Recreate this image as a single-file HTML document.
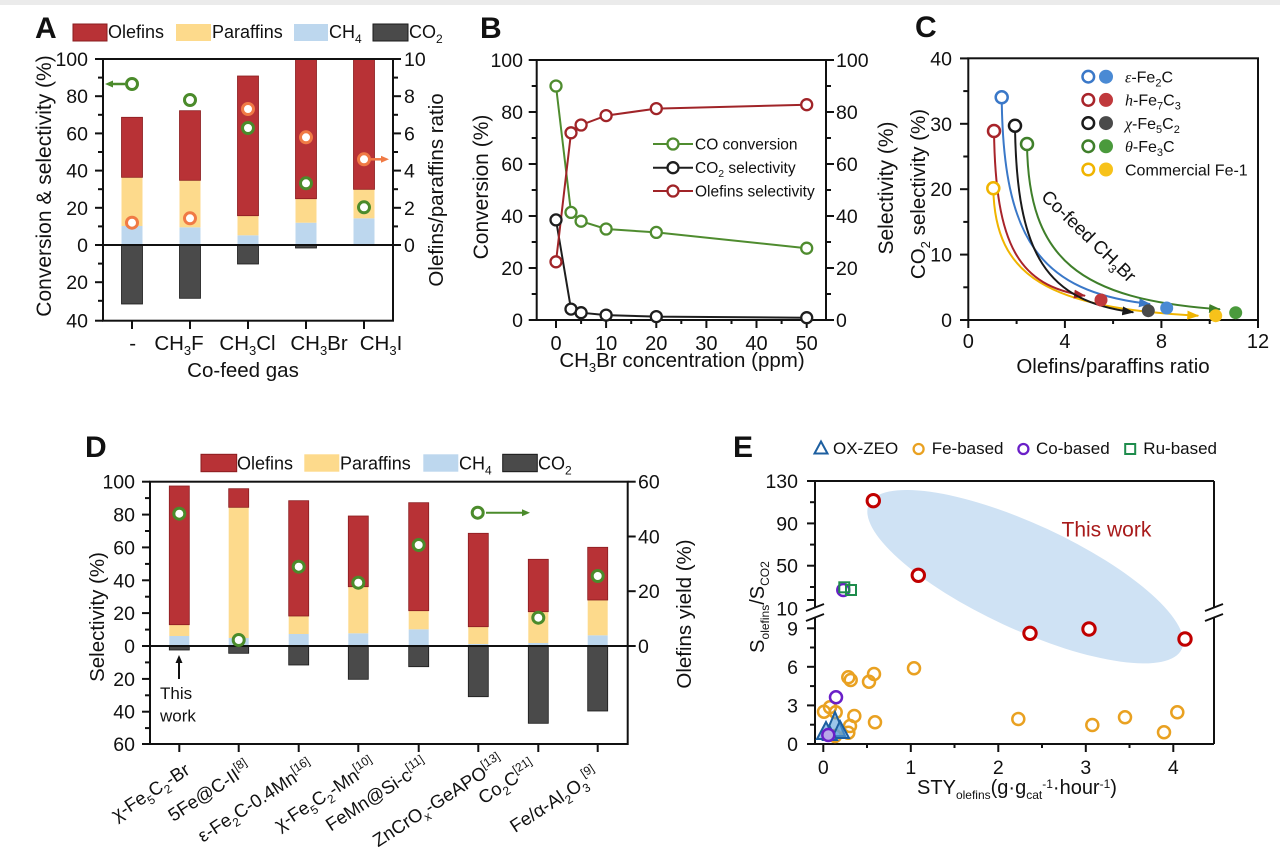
<!DOCTYPE html>
<html><head><meta charset="utf-8"><style>
html,body{margin:0;padding:0;background:#fff;}
svg{display:block;}
text{font-family:"Liberation Sans",Arial,sans-serif;fill:#111;}
</style></head><body>
<svg width="1280" height="862" viewBox="0 0 1280 862" xmlns="http://www.w3.org/2000/svg">
<defs>
<marker id="aB" markerWidth="12" markerHeight="9" refX="11" refY="4.5" orient="auto" markerUnits="userSpaceOnUse"><path d="M0,0 L12,4.5 L0,9 z" fill="#3a78c8"/></marker>
<marker id="aR" markerWidth="12" markerHeight="9" refX="11" refY="4.5" orient="auto" markerUnits="userSpaceOnUse"><path d="M0,0 L12,4.5 L0,9 z" fill="#a8242a"/></marker>
<marker id="aK" markerWidth="12" markerHeight="9" refX="11" refY="4.5" orient="auto" markerUnits="userSpaceOnUse"><path d="M0,0 L12,4.5 L0,9 z" fill="#1a1a1a"/></marker>
<marker id="aG" markerWidth="12" markerHeight="9" refX="11" refY="4.5" orient="auto" markerUnits="userSpaceOnUse"><path d="M0,0 L12,4.5 L0,9 z" fill="#3f7f2a"/></marker>
<marker id="aY" markerWidth="12" markerHeight="9" refX="11" refY="4.5" orient="auto" markerUnits="userSpaceOnUse"><path d="M0,0 L12,4.5 L0,9 z" fill="#f0b400"/></marker>
</defs>
<rect x="0" y="0" width="1280" height="862" fill="#fff"/>
<rect x="0" y="0" width="1280" height="5" fill="#ebebeb"/>

<!-- ================= PANEL A ================= -->
<text x="35" y="38" font-size="30" font-weight="bold">A</text>
<rect x="73" y="24" width="34" height="17" fill="#b83236" stroke="#8a1c1f"/>
<text x="108" y="38" font-size="18">Olefins</text>
<rect x="176" y="24" width="35" height="17" fill="#fdda8c"/>
<text x="212" y="38" font-size="18">Paraffins</text>
<rect x="294" y="24" width="34" height="17" fill="#bdd7ee"/>
<text x="329" y="38" font-size="18">CH<tspan font-size="12" dy="5">4</tspan></text>
<rect x="373" y="24" width="35" height="17" fill="#4a4a4a" stroke="#1a1a1a"/>
<text x="409" y="38" font-size="18">CO<tspan font-size="12" dy="5">2</tspan></text>

<g stroke-width="0.8">
<rect x="121.5" y="226" width="21" height="19" fill="#bdd7ee"/>
<rect x="121.5" y="177.3" width="21" height="48.7" fill="#fdda8c"/>
<rect x="121.5" y="117.3" width="21" height="60" fill="#b83236" stroke="#8a1c1f"/>
<rect x="121.5" y="245" width="21" height="59" fill="#4a4a4a" stroke="#1a1a1a"/>

<rect x="179.5" y="227.3" width="21" height="17.7" fill="#bdd7ee"/>
<rect x="179.5" y="180.3" width="21" height="47" fill="#fdda8c"/>
<rect x="179.5" y="110.7" width="21" height="69.6" fill="#b83236" stroke="#8a1c1f"/>
<rect x="179.5" y="245" width="21" height="53.3" fill="#4a4a4a" stroke="#1a1a1a"/>

<rect x="237.5" y="235.3" width="21" height="9.7" fill="#bdd7ee"/>
<rect x="237.5" y="215.7" width="21" height="19.6" fill="#fdda8c"/>
<rect x="237.5" y="76" width="21" height="139.7" fill="#b83236" stroke="#8a1c1f"/>
<rect x="237.5" y="245" width="21" height="19" fill="#4a4a4a" stroke="#1a1a1a"/>

<rect x="295.5" y="222.7" width="21" height="22.3" fill="#bdd7ee"/>
<rect x="295.5" y="198.7" width="21" height="24" fill="#fdda8c"/>
<rect x="295.5" y="59" width="21" height="139.7" fill="#b83236" stroke="#8a1c1f"/>
<rect x="295.5" y="245" width="21" height="3" fill="#4a4a4a" stroke="#1a1a1a"/>

<rect x="353.5" y="218.3" width="21" height="26.7" fill="#bdd7ee"/>
<rect x="353.5" y="189.3" width="21" height="29" fill="#fdda8c"/>
<rect x="353.5" y="59" width="21" height="130.3" fill="#b83236" stroke="#8a1c1f"/>
</g>

<g stroke="#111" stroke-width="2" fill="none">
<rect x="103" y="59" width="290" height="261.7"/>
<line x1="103" y1="245" x2="393" y2="245"/>
</g>
<g stroke="#111" stroke-width="2">
<line x1="95" y1="59" x2="103" y2="59"/><line x1="95" y1="96.2" x2="103" y2="96.2"/><line x1="95" y1="133.4" x2="103" y2="133.4"/><line x1="95" y1="170.6" x2="103" y2="170.6"/><line x1="95" y1="207.8" x2="103" y2="207.8"/><line x1="95" y1="245" x2="103" y2="245"/><line x1="95" y1="282.2" x2="103" y2="282.2"/><line x1="95" y1="320.7" x2="103" y2="320.7"/>
<line x1="98" y1="77.6" x2="103" y2="77.6"/><line x1="98" y1="114.8" x2="103" y2="114.8"/><line x1="98" y1="152" x2="103" y2="152"/><line x1="98" y1="189.2" x2="103" y2="189.2"/><line x1="98" y1="226.4" x2="103" y2="226.4"/><line x1="98" y1="263.6" x2="103" y2="263.6"/><line x1="98" y1="300.8" x2="103" y2="300.8"/>
<line x1="393" y1="245" x2="401" y2="245"/><line x1="393" y1="207.8" x2="401" y2="207.8"/><line x1="393" y1="170.6" x2="401" y2="170.6"/><line x1="393" y1="133.4" x2="401" y2="133.4"/><line x1="393" y1="96.2" x2="401" y2="96.2"/><line x1="393" y1="59" x2="401" y2="59"/>
<line x1="393" y1="226.4" x2="398" y2="226.4"/><line x1="393" y1="189.2" x2="398" y2="189.2"/><line x1="393" y1="152" x2="398" y2="152"/><line x1="393" y1="114.8" x2="398" y2="114.8"/><line x1="393" y1="77.6" x2="398" y2="77.6"/>
<line x1="132" y1="320.7" x2="132" y2="329"/><line x1="190" y1="320.7" x2="190" y2="329"/><line x1="248" y1="320.7" x2="248" y2="329"/><line x1="306" y1="320.7" x2="306" y2="329"/><line x1="364" y1="320.7" x2="364" y2="329"/>
</g>
<g font-size="19.5" text-anchor="end">
<text x="88" y="66">100</text><text x="88" y="103.2">80</text><text x="88" y="140.4">60</text><text x="88" y="177.6">40</text><text x="88" y="214.8">20</text><text x="88" y="252">0</text><text x="88" y="289.2">20</text><text x="88" y="327.7">40</text>
</g>
<g font-size="19.5">
<text x="404" y="252">0</text><text x="404" y="214.8">2</text><text x="404" y="177.6">4</text><text x="404" y="140.4">6</text><text x="404" y="103.2">8</text><text x="404" y="66">10</text>
</g>
<g font-size="20.5" text-anchor="middle">
<text x="132.7" y="350">-</text>
<text x="179" y="350">CH<tspan font-size="13" dy="5">3</tspan><tspan dy="-5">F</tspan></text>
<text x="247.5" y="350">CH<tspan font-size="13" dy="5">3</tspan><tspan dy="-5">Cl</tspan></text>
<text x="319" y="350">CH<tspan font-size="13" dy="5">3</tspan><tspan dy="-5">Br</tspan></text>
<text x="381" y="350">CH<tspan font-size="13" dy="5">3</tspan><tspan dy="-5">I</tspan></text>
<text x="243" y="377">Co-feed gas</text>
</g>
<text transform="translate(51,186) rotate(-90)" text-anchor="middle" font-size="21">Conversion &amp; selectivity (%)</text>
<text transform="translate(443,190) rotate(-90)" text-anchor="middle" font-size="20.5">Olefins/paraffins ratio</text>
<!-- A markers -->
<g stroke="#4b8b2b" stroke-width="2.5">
<line x1="125" y1="84" x2="111" y2="84"/>
</g>
<path d="M105,84 L113,80.5 L113,87.5 z" fill="#4b8b2b"/>
<g stroke="#f07a45" stroke-width="2.5">
<line x1="371" y1="159.3" x2="383" y2="159.3"/>
</g>
<path d="M389,159.3 L381,155.8 L381,162.8 z" fill="#f07a45"/>
<g fill="#fff" stroke="#4b8b2b" stroke-width="3">
<circle cx="132" cy="84" r="5.5"/><circle cx="190" cy="100" r="5.5"/><circle cx="248" cy="128" r="5.5"/><circle cx="306" cy="183.3" r="5.5"/><circle cx="364" cy="207.3" r="5.5"/>
</g>
<g fill="#fff" stroke="#f07a45" stroke-width="3">
<circle cx="132" cy="222.7" r="5.5"/><circle cx="190" cy="218.3" r="5.5"/><circle cx="248" cy="109" r="5.5"/><circle cx="306" cy="137.3" r="5.5"/><circle cx="364" cy="159.3" r="5.5"/>
</g>

<!-- ================= PANEL B ================= -->
<text x="480" y="38" font-size="30" font-weight="bold">B</text>
<g stroke="#111" stroke-width="2" fill="none">
<rect x="536.7" y="60" width="289.3" height="260"/>
</g>
<g stroke="#111" stroke-width="2">
<line x1="528.7" y1="320" x2="536.7" y2="320"/><line x1="528.7" y1="268" x2="536.7" y2="268"/><line x1="528.7" y1="216" x2="536.7" y2="216"/><line x1="528.7" y1="164" x2="536.7" y2="164"/><line x1="528.7" y1="112" x2="536.7" y2="112"/><line x1="528.7" y1="60" x2="536.7" y2="60"/>
<line x1="531.7" y1="294" x2="536.7" y2="294"/><line x1="531.7" y1="242" x2="536.7" y2="242"/><line x1="531.7" y1="190" x2="536.7" y2="190"/><line x1="531.7" y1="138" x2="536.7" y2="138"/><line x1="531.7" y1="86" x2="536.7" y2="86"/>
<line x1="826" y1="320" x2="834" y2="320"/><line x1="826" y1="268" x2="834" y2="268"/><line x1="826" y1="216" x2="834" y2="216"/><line x1="826" y1="164" x2="834" y2="164"/><line x1="826" y1="112" x2="834" y2="112"/><line x1="826" y1="60" x2="834" y2="60"/>
<line x1="826" y1="294" x2="831" y2="294"/><line x1="826" y1="242" x2="831" y2="242"/><line x1="826" y1="190" x2="831" y2="190"/><line x1="826" y1="138" x2="831" y2="138"/><line x1="826" y1="86" x2="831" y2="86"/>
<line x1="556" y1="320" x2="556" y2="328"/><line x1="606.1" y1="320" x2="606.1" y2="328"/><line x1="656.3" y1="320" x2="656.3" y2="328"/><line x1="706.4" y1="320" x2="706.4" y2="328"/><line x1="756.5" y1="320" x2="756.5" y2="328"/><line x1="806.7" y1="320" x2="806.7" y2="328"/>
<line x1="581.1" y1="320" x2="581.1" y2="324"/><line x1="631.2" y1="320" x2="631.2" y2="324"/><line x1="681.3" y1="320" x2="681.3" y2="324"/><line x1="731.5" y1="320" x2="731.5" y2="324"/><line x1="781.6" y1="320" x2="781.6" y2="324"/>
</g>
<g font-size="19.5" text-anchor="end">
<text x="523" y="327">0</text><text x="523" y="275">20</text><text x="523" y="223">40</text><text x="523" y="171">60</text><text x="523" y="119">80</text><text x="523" y="67">100</text>
</g>
<g font-size="19.5">
<text x="836" y="327">0</text><text x="836" y="275">20</text><text x="836" y="223">40</text><text x="836" y="171">60</text><text x="836" y="119">80</text><text x="836" y="67">100</text>
</g>
<g font-size="20" text-anchor="middle">
<text x="556" y="350">0</text><text x="606.1" y="350">10</text><text x="656.3" y="350">20</text><text x="706.4" y="350">30</text><text x="756.5" y="350">40</text><text x="806.7" y="350">50</text>
<text x="682" y="367" font-size="20.5">CH<tspan font-size="13" dy="5">3</tspan><tspan dy="-5">Br concentration (ppm)</tspan></text>
</g>
<text transform="translate(488,187) rotate(-90)" text-anchor="middle" font-size="21">Conversion (%)</text>
<text transform="translate(893,188) rotate(-90)" text-anchor="middle" font-size="21">Selectivity (%)</text>
<g fill="none" stroke-width="2">
<polyline stroke="#4f8c2f" points="556,86 571,212.4 581.1,221.2 606.1,229 656.3,232.4 806.7,248.2"/>
<polyline stroke="#1e1e1e" points="556,219.9 571,309.1 581.1,312.7 606.1,315.1 656.3,316.6 806.7,317.7"/>
<polyline stroke="#a02428" points="556,261.8 571,132.8 581.1,125 606.1,115.6 656.3,108.6 806.7,104.7"/>
</g>
<g fill="#fff" stroke-width="2.3">
<g stroke="#4f8c2f"><circle cx="556" cy="86" r="5.5"/><circle cx="571" cy="212.4" r="5.5"/><circle cx="581.1" cy="221.2" r="5.5"/><circle cx="606.1" cy="229" r="5.5"/><circle cx="656.3" cy="232.4" r="5.5"/><circle cx="806.7" cy="248.2" r="5.5"/></g>
<g stroke="#1e1e1e"><circle cx="556" cy="219.9" r="5.5"/><circle cx="571" cy="309.1" r="5.5"/><circle cx="581.1" cy="312.7" r="5.5"/><circle cx="606.1" cy="315.1" r="5.5"/><circle cx="656.3" cy="316.6" r="5.5"/><circle cx="806.7" cy="317.7" r="5.5"/></g>
<g stroke="#a02428"><circle cx="556" cy="261.8" r="5.5"/><circle cx="571" cy="132.8" r="5.5"/><circle cx="581.1" cy="125" r="5.5"/><circle cx="606.1" cy="115.6" r="5.5"/><circle cx="656.3" cy="108.6" r="5.5"/><circle cx="806.7" cy="104.7" r="5.5"/></g>
</g>
<!-- B legend -->
<g stroke-width="2">
<line x1="653" y1="144" x2="693" y2="144" stroke="#4f8c2f"/>
<line x1="653" y1="167.7" x2="693" y2="167.7" stroke="#1e1e1e"/>
<line x1="653" y1="191" x2="693" y2="191" stroke="#a02428"/>
</g>
<g fill="#fff" stroke-width="2.3">
<circle cx="673" cy="144" r="5.5" stroke="#4f8c2f"/>
<circle cx="673" cy="167.7" r="5.5" stroke="#1e1e1e"/>
<circle cx="673" cy="191" r="5.5" stroke="#a02428"/>
</g>
<g font-size="15.5">
<text x="695" y="149.5">CO conversion</text>
<text x="695" y="173">CO<tspan font-size="10.5" dy="4">2</tspan><tspan dy="-4"> selectivity</tspan></text>
<text x="695" y="196.5">Olefins selectivity</text>
</g>

<!-- ================= PANEL C ================= -->
<text x="915" y="37" font-size="30" font-weight="bold">C</text>
<g stroke="#111" stroke-width="2" fill="none">
<rect x="968.3" y="58.3" width="289.7" height="261.7"/>
</g>
<g stroke="#111" stroke-width="2">
<line x1="960" y1="320" x2="968.3" y2="320"/><line x1="960" y1="254.6" x2="968.3" y2="254.6"/><line x1="960" y1="189.2" x2="968.3" y2="189.2"/><line x1="960" y1="123.8" x2="968.3" y2="123.8"/><line x1="960" y1="58.4" x2="968.3" y2="58.4"/>
<line x1="963.3" y1="287.3" x2="968.3" y2="287.3"/><line x1="963.3" y1="221.9" x2="968.3" y2="221.9"/><line x1="963.3" y1="156.5" x2="968.3" y2="156.5"/><line x1="963.3" y1="91.1" x2="968.3" y2="91.1"/>
<line x1="968.3" y1="320" x2="968.3" y2="328"/><line x1="1064.9" y1="320" x2="1064.9" y2="328"/><line x1="1161.4" y1="320" x2="1161.4" y2="328"/><line x1="1258" y1="320" x2="1258" y2="328"/>
<line x1="1016.6" y1="320" x2="1016.6" y2="324"/><line x1="1113.1" y1="320" x2="1113.1" y2="324"/><line x1="1209.7" y1="320" x2="1209.7" y2="324"/>
</g>
<g font-size="19.5" text-anchor="end">
<text x="952" y="327">0</text><text x="952" y="261.6">10</text><text x="952" y="196.2">20</text><text x="952" y="130.8">30</text><text x="952" y="65.4">40</text>
</g>
<g font-size="20" text-anchor="middle">
<text x="968.3" y="348">0</text><text x="1064.9" y="348">4</text><text x="1161.4" y="348">8</text><text x="1258" y="348">12</text>
<text x="1113" y="373" font-size="20.5">Olefins/paraffins ratio</text>
</g>
<text transform="translate(925,194) rotate(-90)" text-anchor="middle" font-size="20.5">CO<tspan font-size="13" dy="5">2</tspan><tspan dy="-5"> selectivity (%)</tspan></text>
<g fill="none" stroke-width="2">
<path d="M993.3,188.3 C994.8,277.5 1048.6,308 1198.3,315.7" stroke="#f0b400" marker-end="url(#aY)"/>
<path d="M994,131 C995.5,246 1018.6,285.8 1085,295.7" stroke="#a8242a" marker-end="url(#aR)"/>
<path d="M1001.7,97.3 C1003,240 1040,292 1150,304" stroke="#3a78c8" marker-end="url(#aB)"/>
<path d="M1015,125.7 C1016.5,256.3 1047,301 1133.3,312.3" stroke="#1a1a1a" marker-end="url(#aK)"/>
<path d="M1027,144 C1028.5,259.7 1079,299.4 1220,309.3" stroke="#3f7f2a" marker-end="url(#aG)"/>
</g>
<g fill="#fff" stroke-width="2.5">
<circle cx="1001.7" cy="97.3" r="6" stroke="#3a78c8"/>
<circle cx="994" cy="131" r="6" stroke="#a8242a"/>
<circle cx="1015" cy="125.7" r="6" stroke="#1a1a1a"/>
<circle cx="1027" cy="144" r="6" stroke="#3f7f2a"/>
<circle cx="993.3" cy="188.3" r="6" stroke="#f0b400"/>
</g>
<g>
<circle cx="1101" cy="300" r="6.5" fill="#c0393c"/>
<circle cx="1148.3" cy="310.7" r="6.5" fill="#4a4a4a"/>
<circle cx="1166.7" cy="308" r="6.5" fill="#4a8ad4"/>
<circle cx="1235.7" cy="312.7" r="6.5" fill="#4a9a3c"/>
<circle cx="1215.7" cy="315.7" r="6.5" fill="#f7c21a"/>
</g>
<text transform="translate(1084.5,240.7) rotate(44)" text-anchor="middle" font-size="18.5">Co-feed CH<tspan font-size="12" dy="5">3</tspan><tspan dy="-5">Br</tspan></text>
<!-- C legend -->
<g fill="#fff" stroke-width="2.5">
<circle cx="1088.3" cy="76.7" r="5.8" stroke="#3a78c8"/>
<circle cx="1088.3" cy="99.9" r="5.8" stroke="#a8242a"/>
<circle cx="1088.3" cy="123.1" r="5.8" stroke="#1a1a1a"/>
<circle cx="1088.3" cy="146.3" r="5.8" stroke="#3f7f2a"/>
<circle cx="1088.3" cy="169.5" r="5.8" stroke="#f0b400"/>
</g>
<circle cx="1106" cy="76.7" r="7" fill="#4a8ad4"/>
<circle cx="1106" cy="99.9" r="7" fill="#c0393c"/>
<circle cx="1106" cy="123.1" r="7" fill="#4a4a4a"/>
<circle cx="1106" cy="146.3" r="7" fill="#4a9a3c"/>
<circle cx="1106" cy="169.5" r="7" fill="#f7c21a"/>
<g font-size="16">
<text x="1125" y="82.5"><tspan font-family="Liberation Serif, serif" font-style="italic">ε</tspan>-Fe<tspan font-size="11" dy="4">2</tspan><tspan dy="-4">C</tspan></text>
<text x="1125" y="105.7"><tspan font-family="Liberation Serif, serif" font-style="italic">h</tspan>-Fe<tspan font-size="11" dy="4">7</tspan><tspan dy="-4">C</tspan><tspan font-size="11" dy="4">3</tspan></text>
<text x="1125" y="128.9"><tspan font-family="Liberation Serif, serif" font-style="italic">χ</tspan>-Fe<tspan font-size="11" dy="4">5</tspan><tspan dy="-4">C</tspan><tspan font-size="11" dy="4">2</tspan></text>
<text x="1125" y="152.1"><tspan font-family="Liberation Serif, serif" font-style="italic">θ</tspan>-Fe<tspan font-size="11" dy="4">3</tspan><tspan dy="-4">C</tspan></text>
<text x="1125" y="175.3">Commercial Fe-1</text>
</g>

<!-- ================= PANEL D ================= -->
<text x="85" y="457" font-size="30" font-weight="bold">D</text>
<rect x="201" y="454.3" width="35.7" height="17.4" fill="#b83236" stroke="#8a1c1f"/>
<text x="237" y="469.5" font-size="18">Olefins</text>
<rect x="304.3" y="454.3" width="35" height="17.4" fill="#fdda8c"/>
<text x="340" y="469.5" font-size="18">Paraffins</text>
<rect x="423.3" y="454.3" width="35" height="17.4" fill="#bdd7ee"/>
<text x="459" y="469.5" font-size="18">CH<tspan font-size="12" dy="5">4</tspan></text>
<rect x="502.7" y="454.3" width="34.6" height="17.4" fill="#4a4a4a" stroke="#1a1a1a"/>
<text x="538" y="469.5" font-size="18">CO<tspan font-size="12" dy="5">2</tspan></text>

<g stroke-width="0.8">
<rect x="169.3" y="636" width="20" height="10" fill="#bdd7ee"/>
<rect x="169.3" y="624.7" width="20" height="11.3" fill="#fdda8c"/>
<rect x="169.3" y="486" width="20" height="138.7" fill="#b83236" stroke="#8a1c1f"/>
<rect x="169.3" y="646" width="20" height="4" fill="#4a4a4a" stroke="#1a1a1a"/>

<rect x="228.7" y="638" width="20" height="8" fill="#bdd7ee"/>
<rect x="228.7" y="507.3" width="20" height="130.7" fill="#fdda8c"/>
<rect x="228.7" y="488.7" width="20" height="18.6" fill="#b83236" stroke="#8a1c1f"/>
<rect x="228.7" y="646" width="20" height="7.3" fill="#4a4a4a" stroke="#1a1a1a"/>

<rect x="288.7" y="634" width="20" height="12" fill="#bdd7ee"/>
<rect x="288.7" y="616" width="20" height="18" fill="#fdda8c"/>
<rect x="288.7" y="500.7" width="20" height="115.3" fill="#b83236" stroke="#8a1c1f"/>
<rect x="288.7" y="646" width="20" height="19" fill="#4a4a4a" stroke="#1a1a1a"/>

<rect x="348.3" y="633.3" width="20" height="12.7" fill="#bdd7ee"/>
<rect x="348.3" y="586.7" width="20" height="46.6" fill="#fdda8c"/>
<rect x="348.3" y="516" width="20" height="70.7" fill="#b83236" stroke="#8a1c1f"/>
<rect x="348.3" y="646" width="20" height="33.3" fill="#4a4a4a" stroke="#1a1a1a"/>

<rect x="408.7" y="629.3" width="20" height="16.7" fill="#bdd7ee"/>
<rect x="408.7" y="610.7" width="20" height="18.6" fill="#fdda8c"/>
<rect x="408.7" y="502.7" width="20" height="108" fill="#b83236" stroke="#8a1c1f"/>
<rect x="408.7" y="646" width="20" height="20.7" fill="#4a4a4a" stroke="#1a1a1a"/>

<rect x="468.3" y="644" width="20" height="2" fill="#bdd7ee"/>
<rect x="468.3" y="626.7" width="20" height="17.3" fill="#fdda8c"/>
<rect x="468.3" y="533.3" width="20" height="93.4" fill="#b83236" stroke="#8a1c1f"/>
<rect x="468.3" y="646" width="20" height="50.7" fill="#4a4a4a" stroke="#1a1a1a"/>

<rect x="528.3" y="643" width="20" height="3" fill="#bdd7ee"/>
<rect x="528.3" y="611.7" width="20" height="31.3" fill="#fdda8c"/>
<rect x="528.3" y="559.3" width="20" height="52.4" fill="#b83236" stroke="#8a1c1f"/>
<rect x="528.3" y="646" width="20" height="77.3" fill="#4a4a4a" stroke="#1a1a1a"/>

<rect x="587.7" y="635.3" width="20" height="10.7" fill="#bdd7ee"/>
<rect x="587.7" y="600" width="20" height="35.3" fill="#fdda8c"/>
<rect x="587.7" y="547.3" width="20" height="52.7" fill="#b83236" stroke="#8a1c1f"/>
<rect x="587.7" y="646" width="20" height="65" fill="#4a4a4a" stroke="#1a1a1a"/>
</g>
<g stroke="#111" stroke-width="2" fill="none">
<rect x="150" y="481.7" width="477.7" height="262.3"/>
<line x1="150" y1="646" x2="627.7" y2="646"/>
</g>
<g stroke="#111" stroke-width="2">
<line x1="142" y1="481.7" x2="150" y2="481.7"/><line x1="142" y1="514.6" x2="150" y2="514.6"/><line x1="142" y1="547.4" x2="150" y2="547.4"/><line x1="142" y1="580.3" x2="150" y2="580.3"/><line x1="142" y1="613.1" x2="150" y2="613.1"/><line x1="142" y1="646" x2="150" y2="646"/><line x1="142" y1="678.9" x2="150" y2="678.9"/><line x1="142" y1="711.7" x2="150" y2="711.7"/><line x1="142" y1="744" x2="150" y2="744"/>
<line x1="145" y1="498.1" x2="150" y2="498.1"/><line x1="145" y1="531" x2="150" y2="531"/><line x1="145" y1="563.9" x2="150" y2="563.9"/><line x1="145" y1="596.7" x2="150" y2="596.7"/><line x1="145" y1="629.6" x2="150" y2="629.6"/><line x1="145" y1="662.4" x2="150" y2="662.4"/><line x1="145" y1="695.3" x2="150" y2="695.3"/><line x1="145" y1="728.1" x2="150" y2="728.1"/>
<line x1="627.7" y1="481.7" x2="635.7" y2="481.7"/><line x1="627.7" y1="536.5" x2="635.7" y2="536.5"/><line x1="627.7" y1="591.2" x2="635.7" y2="591.2"/><line x1="627.7" y1="646" x2="635.7" y2="646"/>
<line x1="179.3" y1="744" x2="179.3" y2="752"/><line x1="238.7" y1="744" x2="238.7" y2="752"/><line x1="298.7" y1="744" x2="298.7" y2="752"/><line x1="358.3" y1="744" x2="358.3" y2="752"/><line x1="418.7" y1="744" x2="418.7" y2="752"/><line x1="478.3" y1="744" x2="478.3" y2="752"/><line x1="538.3" y1="744" x2="538.3" y2="752"/><line x1="597.7" y1="744" x2="597.7" y2="752"/>
</g>
<g font-size="19.5" text-anchor="end">
<text x="135" y="488.7">100</text><text x="135" y="521.6">80</text><text x="135" y="554.4">60</text><text x="135" y="587.3">40</text><text x="135" y="620.1">20</text><text x="135" y="653">0</text><text x="135" y="685.9">20</text><text x="135" y="718.7">40</text><text x="135" y="751">60</text>
</g>
<g font-size="19.5">
<text x="638" y="488.7">60</text><text x="638" y="543.5">40</text><text x="638" y="598.2">20</text><text x="638" y="653">0</text>
</g>
<text transform="translate(104,617) rotate(-90)" text-anchor="middle" font-size="20.5">Selectivity (%)</text>
<text transform="translate(691,614) rotate(-90)" text-anchor="middle" font-size="20.5">Olefins yield (%)</text>
<!-- This work arrow -->
<line x1="179" y1="679" x2="179" y2="661" stroke="#111" stroke-width="2"/>
<path d="M179,655 L175.5,663 L182.5,663 z" fill="#111"/>
<text x="160" y="699" font-size="17">This</text>
<text x="160" y="721.5" font-size="17">work</text>
<!-- D markers -->
<line x1="486" y1="512.7" x2="524" y2="512.7" stroke="#4b8b2b" stroke-width="2"/>
<path d="M530,512.7 L522,509.2 L522,516.2 z" fill="#4b8b2b"/>
<g fill="#fff" stroke="#4b8b2b" stroke-width="3">
<circle cx="179.3" cy="513.7" r="5.5"/><circle cx="238.7" cy="640" r="5.5"/><circle cx="298.7" cy="566.7" r="5.5"/><circle cx="358.3" cy="582.7" r="5.5"/><circle cx="418.7" cy="545" r="5.5"/><circle cx="538.3" cy="617.7" r="5.5"/><circle cx="597.7" cy="576" r="5.5"/><circle cx="477.7" cy="512.7" r="5.5"/>
</g>
<!-- D x labels -->
<g font-size="18.5" text-anchor="end">
<text transform="translate(191,773) rotate(-33)">χ-Fe<tspan font-size="12" dy="5">5</tspan><tspan dy="-5">C</tspan><tspan font-size="12" dy="5">2</tspan><tspan dy="-5">-Br</tspan></text>
<text transform="translate(252,771) rotate(-33)">5Fe@C-II<tspan font-size="12" dy="-8">[8]</tspan></text>
<text transform="translate(315,770) rotate(-33)">ε-Fe<tspan font-size="12" dy="5">2</tspan><tspan dy="-5">C-0.4Mn</tspan><tspan font-size="12" dy="-8">[16]</tspan></text>
<text transform="translate(377,768) rotate(-33)">χ-Fe<tspan font-size="12" dy="5">5</tspan><tspan dy="-5">C</tspan><tspan font-size="12" dy="5">2</tspan><tspan dy="-5">-Mn</tspan><tspan font-size="12" dy="-8">[10]</tspan></text>
<text transform="translate(429,768) rotate(-33)">FeMn@Si-c<tspan font-size="12" dy="-8">[11]</tspan></text>
<text transform="translate(505,765) rotate(-33)">ZnCrO<tspan font-size="12" dy="5">x</tspan><tspan dy="-5">-GeAPO</tspan><tspan font-size="12" dy="-8">[13]</tspan></text>
<text transform="translate(537,770) rotate(-33)">Co<tspan font-size="12" dy="5">2</tspan><tspan dy="-5">C</tspan><tspan font-size="12" dy="-8">[21]</tspan></text>
<text transform="translate(600,778) rotate(-33)">Fe/α-Al<tspan font-size="12" dy="5">2</tspan><tspan dy="-5">O</tspan><tspan font-size="12" dy="5">3</tspan><tspan font-size="12" dy="-14">[9]</tspan></text>
</g>

<!-- ================= PANEL E ================= -->
<text x="733" y="457" font-size="30" font-weight="bold">E</text>
<!-- legend -->
<polygon points="821,441.5 814.5,453.5 827.5,453.5" fill="none" stroke="#1d5fa0" stroke-width="2"/>
<text x="833" y="454" font-size="17">OX-ZEO</text>
<circle cx="918.6" cy="449" r="5" fill="none" stroke="#e9a121" stroke-width="2.3"/>
<text x="931.7" y="454" font-size="17">Fe-based</text>
<circle cx="1023.4" cy="449" r="5" fill="none" stroke="#6a1fc8" stroke-width="2.3"/>
<text x="1036" y="454" font-size="17">Co-based</text>
<rect x="1125.2" y="444" width="10" height="10" fill="none" stroke="#1e8c4c" stroke-width="2"/>
<text x="1143.3" y="454" font-size="17">Ru-based</text>

<ellipse cx="1025.3" cy="576.7" rx="172.4" ry="52.5" transform="rotate(24.85 1025.3 576.7)" fill="#cfe2f4"/>
<text x="1061.5" y="536.5" font-size="21" fill="#a81a1a" style="fill:#a81a1a">This work</text>

<g stroke="#111" stroke-width="2">
<line x1="815" y1="481" x2="1214" y2="481"/>
<line x1="815" y1="744" x2="1214" y2="744"/>
<line x1="815" y1="481" x2="815" y2="607.5"/>
<line x1="815" y1="617.5" x2="815" y2="744"/>
<line x1="1214" y1="481" x2="1214" y2="607.5"/>
<line x1="1214" y1="617.5" x2="1214" y2="744"/>
<line x1="806" y1="611" x2="824" y2="604"/>
<line x1="806" y1="621" x2="824" y2="614"/>
<line x1="1205" y1="611" x2="1223" y2="604"/>
<line x1="1205" y1="621" x2="1223" y2="614"/>
<line x1="807" y1="744" x2="815" y2="744"/><line x1="807" y1="705.4" x2="815" y2="705.4"/><line x1="807" y1="666.8" x2="815" y2="666.8"/><line x1="807" y1="628.3" x2="815" y2="628.3"/><line x1="807" y1="600" x2="815" y2="600"/><line x1="807" y1="565.7" x2="815" y2="565.7"/><line x1="807" y1="523.4" x2="815" y2="523.4"/><line x1="807" y1="481" x2="815" y2="481"/>
<line x1="810" y1="724.7" x2="815" y2="724.7"/><line x1="810" y1="686.1" x2="815" y2="686.1"/><line x1="810" y1="647.5" x2="815" y2="647.5"/><line x1="810" y1="587" x2="815" y2="587"/><line x1="810" y1="544.6" x2="815" y2="544.6"/><line x1="810" y1="502.2" x2="815" y2="502.2"/>
<line x1="823.3" y1="744" x2="823.3" y2="752"/><line x1="910.8" y1="744" x2="910.8" y2="752"/><line x1="998.3" y1="744" x2="998.3" y2="752"/><line x1="1085.8" y1="744" x2="1085.8" y2="752"/><line x1="1173.3" y1="744" x2="1173.3" y2="752"/>
<line x1="867" y1="744" x2="867" y2="748"/><line x1="954.5" y1="744" x2="954.5" y2="748"/><line x1="1042" y1="744" x2="1042" y2="748"/><line x1="1129.5" y1="744" x2="1129.5" y2="748"/>
</g>
<g font-size="19.5" text-anchor="end">
<text x="798" y="751">0</text><text x="798" y="712.4">3</text><text x="798" y="673.8">6</text><text x="798" y="635.3">9</text><text x="798" y="615.3">10</text><text x="798" y="572.7">50</text><text x="798" y="530.4">90</text><text x="798" y="488">130</text>
</g>
<g font-size="19.5" text-anchor="middle">
<text x="823.3" y="774">0</text><text x="910.8" y="774">1</text><text x="998.3" y="774">2</text><text x="1085.8" y="774">3</text><text x="1173.3" y="774">4</text>
</g>
<text x="1017" y="794" font-size="20" text-anchor="middle">STY<tspan font-size="12" dy="5">olefins</tspan><tspan dy="-5">(g·g</tspan><tspan font-size="12" dy="5">cat</tspan><tspan font-size="12" dy="-11">-1</tspan><tspan dy="6">·hour</tspan><tspan font-size="12" dy="-6">-1</tspan><tspan dy="6">)</tspan></text>
<text transform="translate(764,607) rotate(-90)" text-anchor="middle" font-size="20">S<tspan font-size="12" dy="5">olefins</tspan><tspan dy="-5">/S</tspan><tspan font-size="12" dy="5">CO2</tspan></text>

<!-- E points -->
<g fill="none" stroke="#e9a121" stroke-width="2.5">
<circle cx="914" cy="668.3" r="6"/><circle cx="874" cy="674" r="6"/><circle cx="869" cy="681.7" r="6"/><circle cx="848.3" cy="677.3" r="6"/><circle cx="850.7" cy="680" r="6"/><circle cx="854.3" cy="716" r="6"/><circle cx="875" cy="722.3" r="6"/><circle cx="824" cy="711.7" r="6"/><circle cx="830" cy="707.3" r="6"/><circle cx="835.7" cy="712.3" r="6"/><circle cx="850" cy="726" r="6"/><circle cx="848.3" cy="732.7" r="6"/><circle cx="835" cy="736" r="6"/><circle cx="1018.3" cy="719" r="6"/><circle cx="1092.3" cy="725" r="6"/><circle cx="1125" cy="717.3" r="6"/><circle cx="1164" cy="732.3" r="6"/><circle cx="1177.3" cy="712.3" r="6"/>
</g>
<g stroke="#1d5fa0" stroke-width="2" fill="#5aa0dc" fill-opacity="0.6">
<polygon points="835,712 825,736 845,736"/>
<polygon points="826,722 817,739 835,739"/>
<polygon points="840,721 832,738 849,738"/>
<polygon points="830,727 823,740 837,740"/>
</g>
<g fill="none" stroke="#6a1fc8" stroke-width="2.5">
<circle cx="836" cy="697.3" r="6"/><circle cx="828.3" cy="735" r="6" fill="#b8a8e8"/><circle cx="843.3" cy="590" r="6"/>
</g>
<g fill="none" stroke="#1e8c4c" stroke-width="2">
<rect x="839.3" y="582.3" width="10" height="10"/><rect x="846" y="585" width="10" height="10"/>
</g>
<g fill="#fff" stroke="#c00000" stroke-width="3">
<circle cx="873.3" cy="500.7" r="6.2"/><circle cx="918.3" cy="575.3" r="6.2"/><circle cx="1030" cy="633.3" r="6.2"/><circle cx="1089" cy="629" r="6.2"/><circle cx="1185" cy="639" r="6.2"/>
</g>
</svg>
</body></html>
